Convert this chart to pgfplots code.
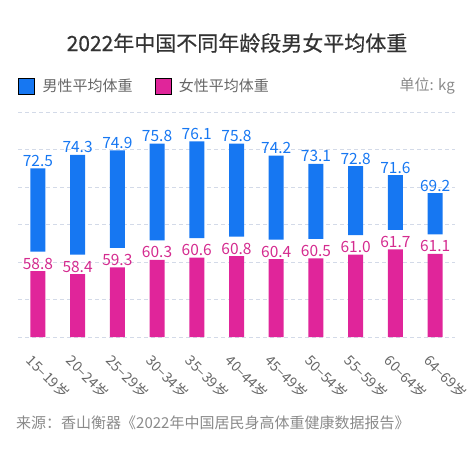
\documentclass[border=0pt]{standalone}
\usepackage{pgfplots}
\usepackage{pgfplotstable}
\usepackage{fontspec}
\pgfplotsset{compat=1.18}
\setmainfont{Noto Sans CJK SC}
\newfontfamily\titlefont[FakeBold=0.5]{Noto Sans CJK SC}

\definecolor{maleblue}{HTML}{1677F2}
\definecolor{femalepink}{HTML}{E0259A}
\definecolor{femaletext}{HTML}{D42B8F}
\definecolor{gridc}{HTML}{D3DAE8}
\definecolor{titlec}{HTML}{333333}
\definecolor{legc}{HTML}{666666}
\definecolor{srcc}{HTML}{8A8A8A}

% x = age group index, F = female kg, M = male kg
\pgfplotstableread{
x F M
0 58.8 72.5
1 58.4 74.3
2 59.3 74.9
3 60.3 75.8
4 60.6 76.1
5 60.8 75.8
6 60.4 74.2
7 60.5 73.1
8 61.0 72.8
9 61.7 71.6
10 61.1 69.2
}\weights

\pgfplotsset{
  frame/.style={
    at={(18pt,114pt)}, anchor=south west,
    scale only axis, width=437pt, height=225pt,
    xmin=-0.5, xmax=10.5, ymin=50, ymax=80,
  },
}
\tikzset{vlabel/.style={anchor=south, text=#1, inner sep=1.5pt, font=\fontsize{15.5}{15.5}\selectfont}}

\begin{document}
\begin{tikzpicture}
\useasboundingbox (0,0) rectangle (474pt,451pt);
\begin{axis}[
    frame,
    ybar stacked, bar width=15pt,
    ytick={50,55,...,80}, yticklabels={},
    ymajorgrids,
    grid style={gridc, dash pattern=on 4pt off 3pt, line width=0.8pt},
    axis line style={draw=none},
    major tick length=0pt,
    xtick={0,...,10},
    xticklabels={15–19岁,20–24岁,25–29岁,30–34岁,35–39岁,40–44岁,45–49岁,50–54岁,55–59岁,60–64岁,64–69岁},
    xticklabel style={rotate=-45, anchor=north west, font=\fontsize{14}{14}\selectfont, text=legc, inner sep=0pt, xshift=9pt, yshift=-14pt},
    legend style={at={(0,1.1156)}, anchor=west, draw=none, fill=none, inner sep=0pt,
      nodes={inner sep=0pt, text=legc, font=\fontsize{15}{15}\selectfont},
      /tikz/every odd column/.append style={column sep=8pt},
      /tikz/every even column/.append style={column sep=22pt}},
    legend columns=2,
    legend image code/.code={\fill[#1] (0pt,-8pt) rectangle (16pt,8pt);},
  ]
  % female bar, gap kept for the value label, male bar on top
  \addplot[fill=femalepink, draw=none, forget plot] table[x=x, y=F] {\weights};
  \addplot[fill=none, draw=none, forget plot] table[x=x, y expr=2.6] {\weights};
  \addplot[fill=maleblue, draw=none, forget plot] table[x=x, y expr=\thisrow{M}-\thisrow{F}-2.6] {\weights};
  \addlegendimage{fill=maleblue}
  \addlegendentry{男性平均体重}
  \addlegendimage{fill=femalepink}
  \addlegendentry{女性平均体重}
\end{axis}
% value labels on a second, hidden axis with the same frame
\begin{axis}[
    frame, hide axis, clip=false,
    /pgf/number format/.cd, fixed, fixed zerofill, precision=1, assume math mode=true, /pgfplots/.cd,
  ]
  \addplot[draw=none, mark=none, point meta=explicit, nodes near coords,
    nodes near coords style={vlabel=femaletext}] table[x=x, y=F, meta=F] {\weights};
  \addplot[draw=none, mark=none, point meta=explicit, nodes near coords,
    nodes near coords style={vlabel=maleblue}] table[x=x, y=M, meta=M] {\weights};
\end{axis}
\node[text=titlec, font=\fontsize{21}{21}\selectfont\titlefont] at (237pt,408pt) {2022年中国不同年龄段男女平均体重};
\node[text=srcc, anchor=east, font=\fontsize{15}{15}\selectfont, inner sep=0pt] at (455pt,365pt) {单位: kg};
\node[text=srcc, anchor=west, font=\fontsize{15}{15}\selectfont, inner sep=0pt] at (16pt,28pt) {来源：香山衡器《2022年中国居民身高体重健康数据报告》};
\end{tikzpicture}
\end{document}
